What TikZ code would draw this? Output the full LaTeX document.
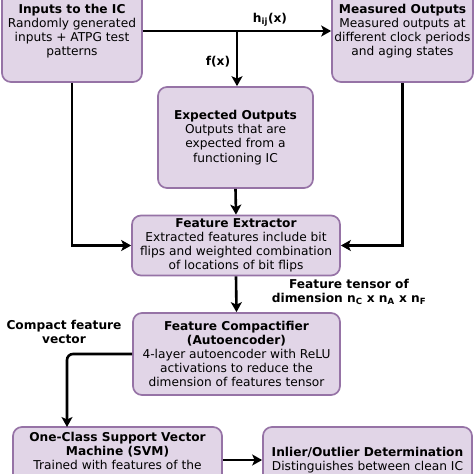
\documentclass[tikz,border=0pt]{standalone}
\usepackage{fontspec}
\setmainfont{DejaVu Sans}
\usetikzlibrary{arrows.meta}
\definecolor{boxfill}{HTML}{E1D5E7}
\definecolor{boxdraw}{HTML}{9673A6}
\tikzset{
  box/.style={draw=boxdraw, fill=boxfill, line width=1.7pt, rounded corners=9pt,
    align=center, inner sep=0pt, font=\fontsize{12.2}{14.2}\selectfont},
  conn/.style={line width=2.6pt, -{Stealth[length=10pt,width=11pt,inset=2.5pt]}},
  lbl/.style={font=\bfseries\fontsize{12.2}{14.2}\selectfont, align=center, inner sep=0pt}
}
\begin{document}
\begin{tikzpicture}[x=1pt,y=-1pt]
\useasboundingbox (0,0) rectangle (474,474);
\clip (0,0) rectangle (474,474);
\fill[white] (0,0) rectangle (474,474);

\node[box, minimum width=140, minimum height=102] (inp) at (72,31)
  {\textbf{Inputs to the IC}\\Randomly generated\\inputs + ATPG test\\patterns};
\node[box, minimum width=141, minimum height=102] (meas) at (402.5,31)
  {\textbf{Measured Outputs}\\Measured outputs at\\different clock periods\\and aging states};
\node[box, minimum width=155, minimum height=101] (exp) at (235.5,137.5)
  {\textbf{Expected Outputs}\\Outputs that are\\expected from a\\functioning IC};
\node[box, minimum width=208, minimum height=60] (fe) at (236,245.5)
  {\textbf{Feature Extractor}\\Extracted features include bit\\flips and weighted combination\\of locations of bit flips};
\node[box, minimum width=207, minimum height=82] (comp) at (236.5,354)
  {\textbf{Feature Compactifier}\\\textbf{(Autoencoder)}\\4-layer autoencoder with ReLU\\activations to reduce the\\dimension of features tensor};
\node[box, minimum width=209, minimum height=66] (svm) at (117.5,460)
  {\textbf{One-Class Support Vector}\\\textbf{Machine (SVM)}\\Trained with features of the\\\strut};
\node[box, minimum width=209, minimum height=80] (inl) at (367.5,467)
  {\textbf{Inlier/Outlier Determination}\\Distinguishes between clean IC\\and Trojan inserted IC};

\coordinate (split) at (237,31);
\coordinate (svmin) at (67,427);

\draw[conn] (inp.east) -- (meas.west);
\draw[conn] (split) -- (split |- exp.north);
\draw[conn] (exp.south) -- (fe.north);
\draw[conn] (inp.south) |- (fe.west);
\draw[conn] (meas.south) |- (fe.east);
\draw[conn] (fe.south) -- (comp.north);
\draw[conn, rounded corners=6pt] (comp.west) -| (svmin);
\draw[conn] (svm.east) -- (svm.east -| inl.west);

\node[lbl] (lh) at (270,20) {h\textsubscript{ij}(x)};
\node[lbl] (lf) at (218,62) {f(x)};
\node[lbl] (lt) at (349,292) {Feature tensor of\\dimension n\textsubscript{C} x n\textsubscript{A} x n\textsubscript{F}};
\node[lbl] (lc) at (64,332) {Compact feature\\vector};
\end{tikzpicture}
\end{document}
